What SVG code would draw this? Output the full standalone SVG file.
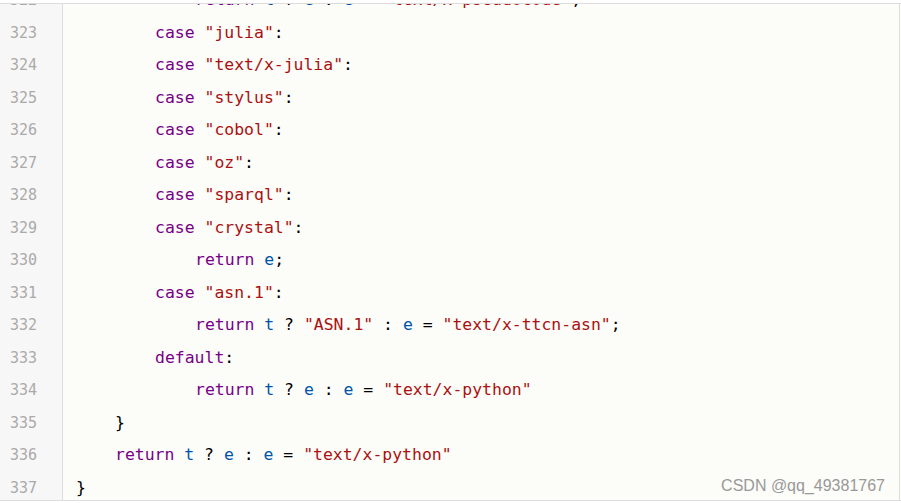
<svg xmlns="http://www.w3.org/2000/svg" width="901" height="503" viewBox="0 0 901 503">
<style>
.c{font-family:"DejaVu Sans Mono",monospace;font-size:16.45px;fill:#000;white-space:pre}
.n{font-family:"DejaVu Sans Mono",monospace;font-size:15px;fill:#aaa;text-anchor:end}
.k{fill:#770088}.s{fill:#aa1111}.v{fill:#0055aa}
</style>
<defs><clipPath id="cp"><rect x="0" y="4" width="901" height="496"/></clipPath></defs>
<rect width="901" height="503" fill="#ffffff"/>
<g clip-path="url(#cp)">
<rect x="0" y="4" width="901" height="496" fill="#fcfcf8"/>
<rect x="0" y="4" width="62" height="496" fill="#f7f7f7"/>
<line x1="62.5" y1="4" x2="62.5" y2="500" stroke="#dddddd"/>
<g id="gutter">
<text class="n" x="37" y="5">322</text>
<text class="n" x="37" y="37.5">323</text>
<text class="n" x="37" y="70">324</text>
<text class="n" x="37" y="102.5">325</text>
<text class="n" x="37" y="135">326</text>
<text class="n" x="37" y="167.5">327</text>
<text class="n" x="37" y="200">328</text>
<text class="n" x="37" y="232.5">329</text>
<text class="n" x="37" y="265">330</text>
<text class="n" x="37" y="297.5">331</text>
<text class="n" x="37" y="330">332</text>
<text class="n" x="37" y="362.5">333</text>
<text class="n" x="37" y="395">334</text>
<text class="n" x="37" y="427.5">335</text>
<text class="n" x="37" y="460">336</text>
<text class="n" x="37" y="492.5">337</text>
</g>
<g id="code">
<text class="c" x="195" y="5"><tspan class="k">return</tspan> <tspan class="v">t</tspan> ? <tspan class="v">e</tspan> : <tspan class="v">e</tspan> = <tspan class="s">"text/x-pseudocode"</tspan>;</text>
<text class="c" x="155" y="37.5"><tspan class="k">case</tspan> <tspan class="s">"julia"</tspan>:</text>
<text class="c" x="155" y="70"><tspan class="k">case</tspan> <tspan class="s">"text/x-julia"</tspan>:</text>
<text class="c" x="155" y="102.5"><tspan class="k">case</tspan> <tspan class="s">"stylus"</tspan>:</text>
<text class="c" x="155" y="135"><tspan class="k">case</tspan> <tspan class="s">"cobol"</tspan>:</text>
<text class="c" x="155" y="167.5"><tspan class="k">case</tspan> <tspan class="s">"oz"</tspan>:</text>
<text class="c" x="155" y="200"><tspan class="k">case</tspan> <tspan class="s">"sparql"</tspan>:</text>
<text class="c" x="155" y="232.5"><tspan class="k">case</tspan> <tspan class="s">"crystal"</tspan>:</text>
<text class="c" x="195" y="265"><tspan class="k">return</tspan> <tspan class="v">e</tspan>;</text>
<text class="c" x="155" y="297.5"><tspan class="k">case</tspan> <tspan class="s">"asn.1"</tspan>:</text>
<text class="c" x="195" y="330"><tspan class="k">return</tspan> <tspan class="v">t</tspan> ? <tspan class="s">"ASN.1"</tspan> : <tspan class="v">e</tspan> = <tspan class="s">"text/x-ttcn-asn"</tspan>;</text>
<text class="c" x="155" y="362.5"><tspan class="k">default</tspan>:</text>
<text class="c" x="195" y="395"><tspan class="k">return</tspan> <tspan class="v">t</tspan> ? <tspan class="v">e</tspan> : <tspan class="v">e</tspan> = <tspan class="s">"text/x-python"</tspan></text>
<text class="c" x="115" y="427.5">}</text>
<text class="c" x="115" y="460"><tspan class="k">return</tspan> <tspan class="v">t</tspan> ? <tspan class="v">e</tspan> : <tspan class="v">e</tspan> = <tspan class="s">"text/x-python"</tspan></text>
<text class="c" x="76" y="492.5">}</text>
</g>
</g>
<line x1="0" y1="3.5" x2="901" y2="3.5" stroke="#dddddd"/>
<line x1="0" y1="500.5" x2="901" y2="500.5" stroke="#dddddd"/>
<line x1="899.5" y1="4" x2="899.5" y2="500" stroke="#dddddd"/>
<text x="885" y="491" font-family="Liberation Sans,sans-serif" font-size="16" fill="#999" text-anchor="end">CSDN @qq_49381767</text>
</svg>
